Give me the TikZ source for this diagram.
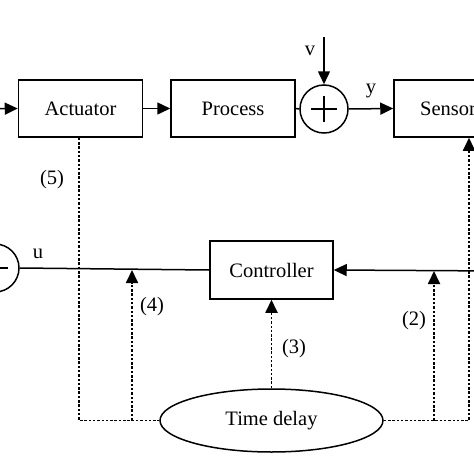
\documentclass[tikz,border=0pt]{standalone}
\usepackage{fontspec}
\setmainfont{Liberation Serif}
\usetikzlibrary{arrows.meta,shapes.geometric,calc}
\begin{document}
\begin{tikzpicture}[x=1pt,y=-1pt,
  font=\fontsize{20.5}{24}\selectfont,
  blk/.style={draw,line width=1.5pt,rectangle,minimum width=124pt,minimum height=57pt,inner sep=0pt},
  sumc/.style={draw,line width=1.5pt,circle,minimum size=48pt,inner sep=0pt},
  conn/.style={line width=1.5pt},
  arr/.style={conn,-{Triangle[length=13pt,width=12pt]}},
  dot/.style={line width=1.8pt,dash pattern=on 2.5pt off 1.8pt},
  darr/.style={dot,-{Triangle[length=13pt,width=12pt]}},
  lbl/.style={inner sep=0pt}]
\fill[white] (0,0) rectangle (474,474);
\useasboundingbox (0,0) rectangle (474,474);
\clip (0,0) rectangle (474,474);
% blocks
\node[blk] (act) at (80.5,108.5) {Actuator};
\node[blk] (proc) at (233,108.5) {Process};
\node[sumc] (sum) at (324,109) {};
\draw[line width=1.5pt] ($(sum.center)+(-13,0)$) -- ($(sum.center)+(13,0)$)
  ($(sum.center)+(0,-13)$) -- ($(sum.center)+(0,13)$);
\node[blk,minimum width=108pt] (sens) at (448,108.5) {Sensor};
\node[sumc] (minus) at (-5,268) {};
\draw[line width=1.5pt] ($(minus.center)+(-13,0)$) -- ($(minus.center)+(13,0)$);
\node[blk,minimum width=123pt,minimum height=58pt] (ctrl) at (271.5,270) {Controller};
\node[draw,line width=1.5pt,ellipse,minimum width=223pt,minimum height=63pt,inner sep=0pt] (delay) at (271.5,420.5) {Time delay};
% coordinates
\coordinate (lin) at (-20,109);
\coordinate (vtop) at (324,37);
\coordinate (rin) at (500,271);
\coordinate (dl) at (79,420.5);
\coordinate (j4) at (132,420.5);
\coordinate (t4) at (132,270);
\coordinate (j2) at (434,420.5);
\coordinate (t2) at (434,271);
\coordinate (dr) at (469,420.5);
% solid connectors
\draw[arr] (lin) -- (act.west);
\draw[arr] (act.east) -- (proc.west);
\draw[conn] (proc.east) -- (sum.west);
\draw[arr] (vtop) -- (sum.north);
\draw[arr] (sum.east) -- (sens.west);
\draw[conn] (ctrl.west) -- (minus.east);
\draw[arr] (rin) -- (ctrl.east);
% dotted connectors
\draw[dot] (dl |- act.south) -- (dl) -- (delay.west);
\draw[darr] (j4) -- (t4);
\draw[darr] (delay.north) -- (ctrl.south);
\draw[darr] (delay.east) -- (dr) -- (dr |- sens.south);
\draw[darr] (j2) -- (t2);
% labels
\node[lbl] (l5) at (52,180) {(5)};
\node[lbl] (l4) at (152,307) {(4)};
\node[lbl] (l3) at (294,349) {(3)};
\node[lbl] (l2) at (414,321) {(2)};
\node[lbl] (lu) at (38,254) {u};
\node[lbl] (lv) at (310,51) {v};
\node[lbl] (ly) at (371,91) {y};
\end{tikzpicture}
\end{document}
